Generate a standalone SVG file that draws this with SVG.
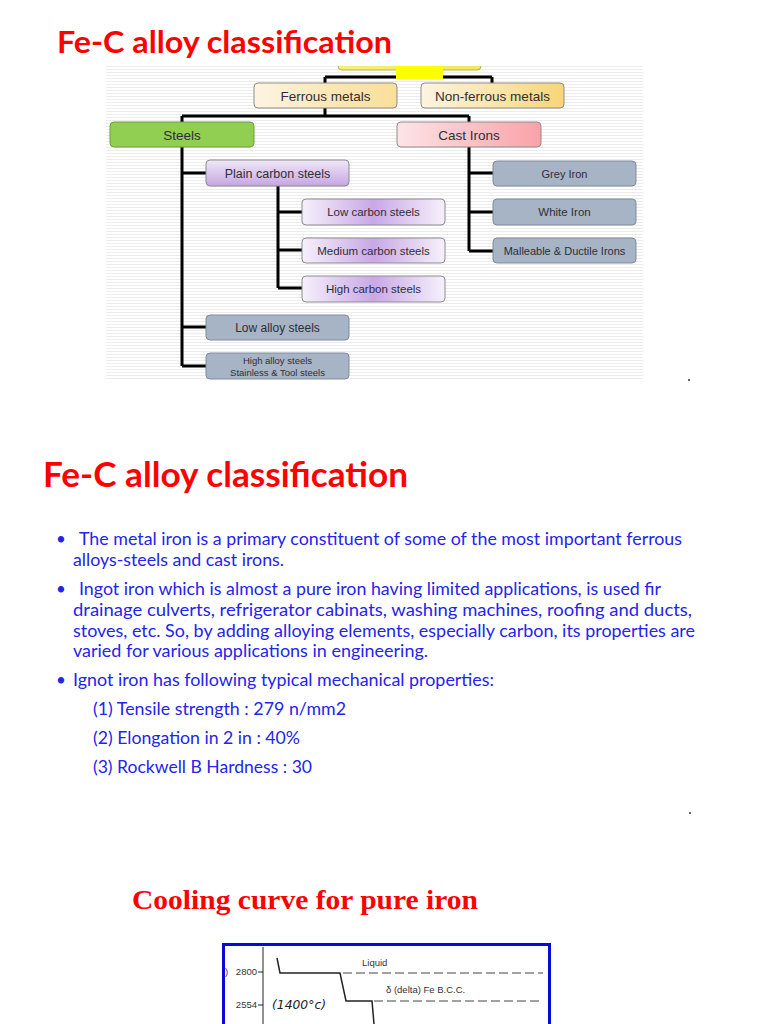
<svg xmlns="http://www.w3.org/2000/svg" width="768" height="1024" viewBox="0 0 768 1024">
<defs>
<pattern id="stripes" x="0" y="0" width="6" height="3" patternUnits="userSpaceOnUse">
<rect width="6" height="3" fill="#ffffff"/>
<rect y="0" width="6" height="1" fill="#ececec"/>
</pattern>
<linearGradient id="gFerrous" x1="0" y1="0" x2="1" y2="0">
<stop offset="0" stop-color="#fdf4e2"/><stop offset="0.6" stop-color="#fbe6b0"/><stop offset="1" stop-color="#f9df98"/>
</linearGradient>
<linearGradient id="gNon" x1="0" y1="0" x2="1" y2="0">
<stop offset="0" stop-color="#fdf4e2"/><stop offset="1" stop-color="#f7d677"/>
</linearGradient>
<linearGradient id="gCast" x1="0" y1="0" x2="1" y2="0">
<stop offset="0" stop-color="#fde4e6"/><stop offset="1" stop-color="#f9a2a8"/>
</linearGradient>
<linearGradient id="gPlain" x1="0" y1="0" x2="0" y2="1">
<stop offset="0" stop-color="#f0e8f8"/><stop offset="1" stop-color="#c6a6e2"/>
</linearGradient>
<linearGradient id="gCarbon" x1="0" y1="0" x2="1" y2="0">
<stop offset="0" stop-color="#f6f0fb"/><stop offset="0.5" stop-color="#c9a8e6"/><stop offset="1" stop-color="#f6f0fb"/>
</linearGradient>
<linearGradient id="gTop" x1="0" y1="0" x2="1" y2="0">
<stop offset="0" stop-color="#f6ef7a"/><stop offset="1" stop-color="#f2e85a"/>
</linearGradient>
<clipPath id="clipDiag"><rect x="106" y="66" width="537" height="314"/></clipPath>
<clipPath id="clipChart"><rect x="225" y="946" width="324" height="78"/></clipPath>
</defs>
<style>
.title{font-family:Lato,"Open Sans","Liberation Sans",sans-serif;font-weight:bold;fill:#ff0000;}
.box{stroke:#8c8c8c;stroke-width:1;}
.grey{fill:#a7b4c5;stroke:#7f8b99;stroke-width:1;}
.lbl{font-family:"Liberation Sans",Arial,sans-serif;fill:#2e2e38;text-anchor:middle;}
.conn{stroke:#000;stroke-width:3;fill:none;}
.body{font-family:Lato,"Open Sans","Liberation Sans",sans-serif;font-size:17px;fill:#2424ee;}
.ax{font-family:"Liberation Sans",Arial,sans-serif;font-size:9.5px;fill:#333;}
</style>
<rect width="768" height="1024" fill="#ffffff"/>

<text class="title" x="57" y="53" font-size="31" textLength="335" lengthAdjust="spacingAndGlyphs">Fe-C alloy classification</text>

<g id="diagram" clip-path="url(#clipDiag)">
<rect x="106" y="66" width="537" height="314" fill="url(#stripes)"/>
<g id="connectors">
<path class="conn" d="M410 66 V77 M325 77 H492 M325 77 V84 M492 77 V84"/>
<path class="conn" d="M325 108 V116 M182 116 H469 M182 116 V122 M469 116 V122"/>
<path class="conn" d="M182 147 V366 M182 173 H206 M182 327 H206 M182 366 H206"/>
<path class="conn" d="M278 186 V288 M278 212 H302 M278 250 H302 M278 288 H302"/>
<path class="conn" d="M469 147 V251 M469 173 H493 M469 212 H493 M469 251 H493"/>
</g>
<g id="n-top"><rect x="338" y="44" width="143" height="26" rx="4" fill="url(#gTop)" stroke="#b9b04a"/><rect x="396" y="65" width="47" height="14" fill="#ffff00"/></g>
<g id="n-ferrous"><rect class="box" x="254" y="83" width="143" height="25" rx="4" fill="url(#gFerrous)"/><text class="lbl" x="325.5" y="101" font-size="13.5">Ferrous metals</text></g>
<g id="n-nonferrous"><rect class="box" x="421" y="83" width="143" height="25" rx="4" fill="url(#gNon)"/><text class="lbl" x="492.5" y="101" font-size="13.5">Non-ferrous metals</text></g>
<g id="n-steels"><rect x="110" y="122" width="144" height="25" rx="4" fill="#90cf4f" stroke="#6f9e3f"/><text class="lbl" x="182" y="140" font-size="13.5">Steels</text></g>
<g id="n-cast"><rect class="box" x="397" y="122" width="144" height="25" rx="4" fill="url(#gCast)"/><text class="lbl" x="469" y="140" font-size="13.5">Cast Irons</text></g>
<g id="n-plain"><rect class="box" x="206" y="160" width="143" height="26" rx="4" fill="url(#gPlain)"/><text class="lbl" x="277.5" y="178" font-size="12.5">Plain carbon steels</text></g>
<g id="n-low"><rect class="box" x="302" y="199" width="143" height="26" rx="4" fill="url(#gCarbon)"/><text class="lbl" x="373.5" y="216" font-size="11.5">Low carbon steels</text></g>
<g id="n-medium"><rect class="box" x="302" y="238" width="143" height="25" rx="4" fill="url(#gCarbon)"/><text class="lbl" x="373.5" y="254.5" font-size="11.5">Medium carbon steels</text></g>
<g id="n-high"><rect class="box" x="302" y="276" width="143" height="26" rx="4" fill="url(#gCarbon)"/><text class="lbl" x="373.5" y="293" font-size="11.5">High carbon steels</text></g>
<g id="n-lowalloy"><rect class="grey" x="206" y="315" width="143" height="25" rx="4"/><text class="lbl" x="277.5" y="332" font-size="12">Low alloy steels</text></g>
<g id="n-highalloy"><rect class="grey" x="206" y="353" width="143" height="26" rx="4"/><text class="lbl" x="277.5" y="364" font-size="9.5">High alloy steels</text><text class="lbl" x="277.5" y="375.5" font-size="9.5">Stainless &amp; Tool steels</text></g>
<g id="n-grey"><rect class="grey" x="493" y="161" width="143" height="25" rx="4"/><text class="lbl" x="564.5" y="177.5" font-size="11">Grey Iron</text></g>
<g id="n-white"><rect class="grey" x="493" y="199" width="143" height="26" rx="4"/><text class="lbl" x="564.5" y="216" font-size="11.5">White Iron</text></g>
<g id="n-malleable"><rect class="grey" x="493" y="238" width="143" height="25" rx="4"/><text class="lbl" x="564.5" y="254.5" font-size="11">Malleable &amp; Ductile Irons</text></g>
</g>

<circle cx="689" cy="380" r="1" fill="#333"/>

<text class="title" x="43" y="487" font-size="34" textLength="365" lengthAdjust="spacingAndGlyphs">Fe-C alloy classification</text>

<g id="bullets" class="body">
<text x="56" y="545">•</text>
<text x="79" y="545" textLength="603" lengthAdjust="spacingAndGlyphs">The metal iron is a primary constituent of some of the most important ferrous</text>
<text x="73" y="566" textLength="211" lengthAdjust="spacingAndGlyphs">alloys-steels and cast irons.</text>
<text x="56" y="595">•</text>
<text x="79" y="595" textLength="582" lengthAdjust="spacingAndGlyphs">Ingot iron which is almost a pure iron having limited applications, is used fir</text>
<text x="73" y="616" textLength="619" lengthAdjust="spacingAndGlyphs">drainage culverts, refrigerator cabinats, washing machines, roofing and ducts,</text>
<text x="73" y="637" textLength="622" lengthAdjust="spacingAndGlyphs">stoves, etc. So, by adding alloying elements, especially carbon, its properties are</text>
<text x="73" y="657" textLength="355" lengthAdjust="spacingAndGlyphs">varied for various applications in engineering.</text>
<text x="56" y="686">•</text>
<text x="73" y="686" textLength="421" lengthAdjust="spacingAndGlyphs">Ignot iron has following typical mechanical properties:</text>
<text x="93" y="715" textLength="253" lengthAdjust="spacingAndGlyphs">(1) Tensile strength : 279 n/mm2</text>
<text x="93" y="744" textLength="207" lengthAdjust="spacingAndGlyphs">(2) Elongation in 2 in : 40%</text>
<text x="93" y="773" textLength="219" lengthAdjust="spacingAndGlyphs">(3) Rockwell B Hardness : 30</text>
</g>

<circle cx="690" cy="813" r="1" fill="#333"/>

<text x="132" y="909" font-family="'Liberation Serif','Times New Roman',serif" font-weight="bold" font-size="27" fill="#ff0000" textLength="346" lengthAdjust="spacingAndGlyphs">Cooling curve for pure iron</text>

<g id="chart">
<rect x="223.5" y="944.5" width="326" height="90" fill="#ffffff" stroke="#0a0ad8" stroke-width="3"/>
<g clip-path="url(#clipChart)">
<line x1="263" y1="947" x2="263" y2="1024" stroke="#222" stroke-width="1"/>
<line x1="258" y1="972" x2="263" y2="972" stroke="#222" stroke-width="1"/>
<line x1="258" y1="1005" x2="263" y2="1005" stroke="#222" stroke-width="1"/>
<text class="ax" x="225" y="975">)</text>
<text class="ax" x="257" y="975" text-anchor="end">2800</text>
<text class="ax" x="257" y="1008" text-anchor="end">2554</text>
<text x="272" y="1009" font-family="'DejaVu Sans',sans-serif" font-style="italic" font-size="13" fill="#222" textLength="54" lengthAdjust="spacingAndGlyphs">(1400°c)</text>
<path d="M277 958 L280 973 H340 L346 1001 H372 L374 1024" fill="none" stroke="#222" stroke-width="1.5"/>
<line x1="343" y1="973" x2="543" y2="973" stroke="#444" stroke-width="1" stroke-dasharray="9,4"/>
<line x1="374" y1="1001" x2="543" y2="1001" stroke="#444" stroke-width="1" stroke-dasharray="9,4"/>
<text class="ax" x="362" y="966" font-size="8.5">Liquid</text>
<text class="ax" x="386" y="993" font-size="8">δ (delta) Fe   B.C.C.</text>
</g>
</g>
</svg>
